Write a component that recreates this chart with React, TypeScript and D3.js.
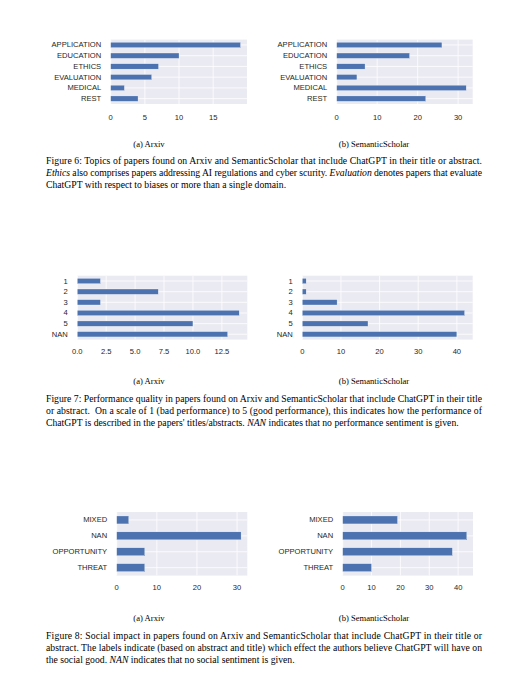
import React from "react";
import * as d3 from "d3";

const topicCats = ["APPLICATION", "EDUCATION", "ETHICS", "EVALUATION", "MEDICAL", "REST"];
const topicArxiv = [19, 10, 7, 6, 2, 4];
const topicSemantic = [26, 18, 7, 5, 32, 22];
const topicArxivTicks = [0, 5, 10, 15];
const topicSemanticTicks = [0, 10, 20, 30];

const perfCats = ["1", "2", "3", "4", "5", "NAN"];
const perfArxiv = [2, 7, 2, 14, 10, 13];
const perfSemantic = [1, 1, 9, 42, 17, 40];
const perfArxivTicks = [0, 2.5, 5, 7.5, 10, 12.5];
const perfSemanticTicks = [0, 10, 20, 30, 40];

const socialCats = ["MIXED", "NAN", "OPPORTUNITY", "THREAT"];
const socialArxiv = [3, 31, 7, 7];
const socialSemantic = [19, 43, 38, 10];
const socialArxivTicks = [0, 10, 20, 30];
const socialSemanticTicks = [0, 10, 20, 30, 40];

type Seg = { t: string; i?: boolean };
const fig6Caption: Seg[][] = [
  [{ t: "Figure 6: Topics of papers found on Arxiv and SemanticScholar that include ChatGPT in their title or abstract." }],
  [{ t: "Ethics", i: true }, { t: " also comprises papers addressing AI regulations and cyber scurity. " }, { t: "Evaluation", i: true }, { t: " denotes papers that evaluate" }],
  [{ t: "ChatGPT with respect to biases or more than a single domain." }],
];
const fig7Caption: Seg[][] = [
  [{ t: "Figure 7: Performance quality in papers found on Arxiv and SemanticScholar that include ChatGPT in their title" }],
  [{ t: "or abstract.  On a scale of 1 (bad performance) to 5 (good performance), this indicates how the performance of" }],
  [{ t: "ChatGPT is described in the papers' titles/abstracts. " }, { t: "NAN", i: true }, { t: " indicates that no performance sentiment is given." }],
];
const fig8Caption: Seg[][] = [
  [{ t: "Figure 8: Social impact in papers found on Arxiv and SemanticScholar that include ChatGPT in their title or" }],
  [{ t: "abstract. The labels indicate (based on abstract and title) which effect the authors believe ChatGPT will have on" }],
  [{ t: "the social good. " }, { t: "NAN", i: true }, { t: " indicates that no social sentiment is given." }],
];

const SANS = "'Liberation Sans', Arial, sans-serif";
const SERIF = "'Liberation Serif', 'Times New Roman', serif";
const BAR = "#4C72B0";
const BG = "#EAEAF2";
const TXT = "#262626";

type PanelProps = {
  cats: string[];
  values: number[];
  ticks: number[];
  fmt?: (v: number) => string;
  x0: number;
  x1: number;
  top: number;
  bottom: number;
  tickY: number;
};

function Panel({ cats, values, ticks, fmt, x0, x1, top, bottom, tickY }: PanelProps) {
  const max = d3.max(values) as number;
  const x = d3.scaleLinear().domain([0, max * 1.05]).range([x0, x1]);
  const y = d3.scaleBand<string>().domain(cats).range([top, bottom]).padding(0);
  const bw = y.bandwidth();
  const bh = bw * 0.5;
  const f = fmt || ((v: number) => String(v));
  return (
    <g>
      <rect x={x0} y={top} width={x1 - x0} height={bottom - top} fill={BG} />
      {ticks.map((t) => (
        <line key={"v" + t} x1={x(t)} x2={x(t)} y1={top} y2={bottom} stroke="#fff" strokeWidth={0.8} />
      ))}
      {cats.map((c) => (
        <line key={"h" + c} x1={x0} x2={x1} y1={(y(c) as number) + bw / 2} y2={(y(c) as number) + bw / 2} stroke="#fff" strokeWidth={0.8} />
      ))}
      {cats.map((c, i) => (
        <rect
          key={"b" + c}
          x={x(0)}
          y={(y(c) as number) + bw / 2 - bh / 2}
          width={x(values[i]) - x(0)}
          height={bh}
          fill={BAR}
          stroke="#fff"
          strokeWidth={0.3}
        />
      ))}
      {cats.map((c) => (
        <text
          key={"l" + c}
          x={x0 - 9.5}
          y={(y(c) as number) + bw / 2}
          textAnchor="end"
          dominantBaseline="central"
          fontFamily={SANS}
          fontSize={7.6}
          fill={TXT}
        >
          {c}
        </text>
      ))}
      {ticks.map((t) => (
        <text
          key={"t" + t}
          x={x(t)}
          y={tickY}
          textAnchor="middle"
          dominantBaseline="central"
          fontFamily={SANS}
          fontSize={7.6}
          fill={TXT}
        >
          {f(t)}
        </text>
      ))}
    </g>
  );
}

function Caption({ lines, x, width, y, lh }: { lines: Seg[][]; x: number; width: number; y: number; lh: number }) {
  return (
    <g>
      {lines.map((segs, li) => {
        const justify = li < lines.length - 1;
        const extra: any = justify ? { textLength: width, lengthAdjust: "spacing" } : {};
        return (
          <text key={li} x={x} y={y + li * lh} fontFamily={SERIF} fontSize={9.7} fill="#000" {...extra} style={{ whiteSpace: "pre" }}>
            {segs.map((s, si) => (
              <tspan key={si} fontStyle={s.i ? "italic" : "normal"}>
                {s.t}
              </tspan>
            ))}
          </text>
        );
      })}
    </g>
  );
}

function SubCap({ x, y, text }: { x: number; y: number; text: string }) {
  return (
    <text x={x} y={y} textAnchor="middle" dominantBaseline="central" fontFamily={SERIF} fontSize={8.6} fill="#000">
      {text}
    </text>
  );
}

export default function App() {
  const fmt1 = d3.format(".1f");
  const capX = 46;
  const capW = 436;
  return (
    <svg width={528} height={695} style={{ position: "absolute", left: 0, top: 0, background: "#fff" }}>
      <rect x={0} y={0} width={528} height={695} fill="#fff" />
      {/* Figure 6 */}
      <Panel cats={topicCats} values={topicArxiv} ticks={topicArxivTicks} x0={110.7} x1={247} top={39.6} bottom={104} tickY={117.3} />
      <Panel cats={topicCats} values={topicSemantic} ticks={topicSemanticTicks} x0={336.7} x1={472.7} top={39.6} bottom={104} tickY={117.3} />
      <SubCap x={149} y={144} text="(a) Arxiv" />
      <SubCap x={374} y={144} text="(b) SemanticScholar" />
      <Caption lines={fig6Caption} x={capX} width={capW} y={164} lh={12} />

      {/* Figure 7 */}
      <Panel cats={perfCats} values={perfArxiv} ticks={perfArxivTicks} fmt={fmt1} x0={77.3} x1={247.3} top={275.7} bottom={339.6} tickY={351.3} />
      <Panel cats={perfCats} values={perfSemantic} ticks={perfSemanticTicks} x0={302.3} x1={472.7} top={275.7} bottom={339.6} tickY={351.3} />
      <SubCap x={149} y={381} text="(a) Arxiv" />
      <SubCap x={374} y={381} text="(b) SemanticScholar" />
      <Caption lines={fig7Caption} x={capX} width={capW} y={402} lh={12} />

      {/* Figure 8 */}
      <Panel cats={socialCats} values={socialArxiv} ticks={socialArxivTicks} x0={116.7} x1={247.3} top={512} bottom={575.6} tickY={587.3} />
      <Panel cats={socialCats} values={socialSemantic} ticks={socialSemanticTicks} x0={342.7} x1={473} top={512} bottom={575.6} tickY={587.3} />
      <SubCap x={149} y={618} text="(a) Arxiv" />
      <SubCap x={374} y={618} text="(b) SemanticScholar" />
      <Caption lines={fig8Caption} x={capX} width={capW} y={639} lh={12} />
    </svg>
  );
}
